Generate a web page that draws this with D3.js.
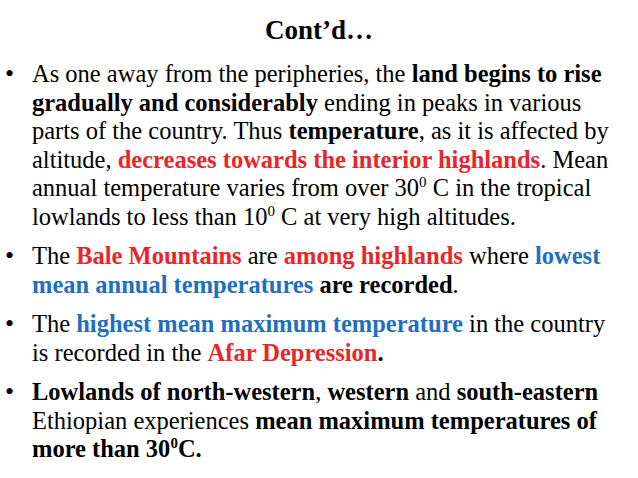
<!DOCTYPE html>
<html><head><meta charset="utf-8">
<script src="https://cdn.jsdelivr.net/npm/d3@7"></script>
<style>body{margin:0;background:#fff}</style>
</head><body>
<script>
const title = "Cont\u2019d\u2026";
// each line: list of [text, style]; n=normal b=bold r=red bold u=blue bold s=superscript
const bullet1 = [
  [["As one away from the peripheries, the ","n"],["land begins to rise","b"]],
  [["gradually and considerably","b"],[" ending in peaks in various","n"]],
  [["parts of the country. Thus ","n"],["temperature","b"],[", as it is affected by","n"]],
  [["altitude, ","n"],["decreases towards the interior highlands","r"],[". Mean","n"]],
  [["annual temperature varies from over 30","n"],["0","s"],[" C in the tropical","n"]],
  [["lowlands to less than 10","n"],["0","s"],[" C at very high altitudes.","n"]]
];
const bullet2 = [
  [["The ","n"],["Bale Mountains","r"],[" are ","n"],["among highlands","r"],[" where ","n"],["lowest","u"]],
  [["mean annual temperatures","u"],[" ","n"],["are recorded","b"],[".","n"]]
];
const bullet3 = [
  [["The ","n"],["highest mean maximum temperature","u"],[" in the country","n"]],
  [["is recorded in the ","n"],["Afar Depression","r"],[".","b"]]
];
const bullet4 = [
  [["Lowlands of north-western","b"],[", ","n"],["western","b"],[" and ","n"],["south-eastern","b"]],
  [["Ethiopian experiences ","n"],["mean maximum temperatures of","b"]],
  [["more than 30","b"],["0","sb"],["C.","b"]]
];
const bullets = [bullet1, bullet2, bullet3, bullet4];
const bulletTops = [82, 264, 332, 400];

const W = 638, H = 478, LH = 28.6, FS = 24.5;
const colors = {n:"#000", b:"#000", r:"#e8262a", u:"#1f6fc0", s:"#000", sb:"#000"};

const svg = d3.select("body").append("svg").attr("width", W).attr("height", H)
  .style("font-family", "'Liberation Serif','Times New Roman',serif");

svg.append("text").attr("x", W/2).attr("y", 39).attr("text-anchor", "middle")
  .attr("font-size", 27).attr("font-weight", "bold").text(title);

bullets.forEach((lines, bi) => {
  const y0 = bulletTops[bi];
  svg.append("text").attr("x", 5).attr("y", y0).attr("font-size", 26).text("\u2022");
  lines.forEach((segs, li) => {
    const t = svg.append("text").attr("x", 32).attr("y", y0 + li*LH).attr("font-size", FS);
    let sup = false;
    segs.forEach(([txt, st]) => {
      const ts = t.append("tspan").text(txt).attr("fill", colors[st])
        .attr("font-weight", st === "n" || st === "s" ? "normal" : "bold");
      if (st === "s" || st === "sb") { ts.attr("font-size", 15).attr("dy", -9); sup = true; }
      else if (sup) { ts.attr("dy", 9); sup = false; }
    });
  });
});
</script>
</body></html>
